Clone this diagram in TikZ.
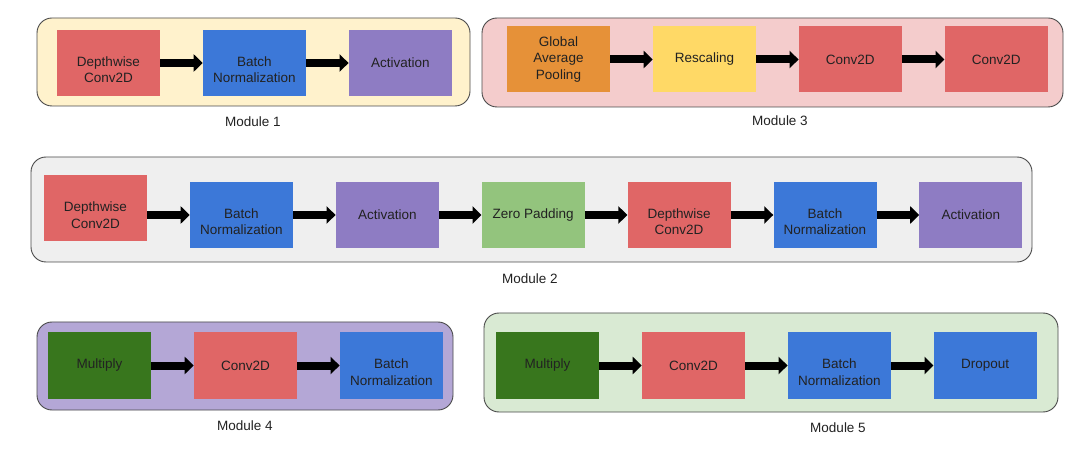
\documentclass[tikz,border=0pt]{standalone}
\usepackage{fontspec}
\setmainfont{Liberation Sans}
\usepackage{xcolor}
\usepackage{tikz}
\usetikzlibrary{arrows.meta,positioning}
\definecolor{ink}{HTML}{222222}
\definecolor{edge}{HTML}{4A4A4A}
\definecolor{conv}{HTML}{E06666}
\definecolor{norm}{HTML}{3C78D8}
\definecolor{act}{HTML}{8E7CC3}
\definecolor{pool}{HTML}{E69138}
\definecolor{rescale}{HTML}{FFD966}
\definecolor{zeropad}{HTML}{93C47D}
\definecolor{mult}{HTML}{38761D}
\definecolor{creampale}{HTML}{FFF2CC}
\definecolor{pinkpale}{HTML}{F4CCCC}
\definecolor{greypale}{HTML}{EFEFEF}
\definecolor{lilac}{HTML}{B4A7D6}
\definecolor{greenpale}{HTML}{D9EAD3}
\newcommand{\pair}[2]{\raisebox{-8.25pt}[\height][\depth]{\begin{tabular}{@{}c@{}}#1\\#2\end{tabular}}}

\begin{document}
\begin{tikzpicture}[x=1pt,y=-1pt,node distance=42.5pt,
 layer/.style={minimum width=103pt,minimum height=66pt,inner sep=0pt,align=center,text=ink,font=\fontsize{13.5}{16.5}\selectfont},
 module/.style={draw=edge,line width=0.9pt,rounded corners=15pt},
 caption/.style={text=ink,font=\fontsize{13.5}{16.5}\selectfont},
 flow/.style={line width=8pt,-{Triangle[width=17pt,length=9pt]}}]
 \useasboundingbox[fill=white] (0,0) rectangle (1080,449);
 \draw[module,fill=creampale] (37,18) rectangle (470,106);
 \draw[module,fill=pinkpale] (482,18) rectangle (1063,107);
 \draw[module,fill=greypale] (31,157) rectangle (1032,262);
 \draw[module,fill=lilac] (37,322) rectangle (453,410);
 \draw[module,fill=greenpale] (484,313) rectangle (1058,412);
 \node[layer,fill=conv] (m1a) at (108.5,63) {\pair{Depthwise}{Conv2D}};
 \node[layer,fill=norm,right=of m1a] (m1b) {\pair{Batch}{Normalization}};
 \node[layer,fill=act,right=of m1b] (m1c) {Activation};
 \node[caption] (lab1) at (253,122) {Module 1};
 \node[layer,fill=pool] (m3a) at (558.5,59.5) {Global\\Average\\Pooling};
 \node[layer,fill=rescale,right=of m3a] (m3b) {Rescaling};
 \node[layer,fill=conv,right=of m3b] (m3c) {Conv2D};
 \node[layer,fill=conv,right=of m3c] (m3d) {Conv2D};
 \node[caption] (lab3) at (780,121) {Module 3};
 \node[layer,fill=conv] (m2a) at (95.5,208.5) {\pair{Depthwise}{Conv2D}};
 \node[layer,fill=norm,right=of m2a,yshift=-6.5pt] (m2b) {\pair{Batch}{Normalization}};
 \node[layer,fill=act,right=of m2b] (m2c) {Activation};
 \node[layer,fill=zeropad,right=of m2c] (m2d) {Zero Padding};
 \node[layer,fill=conv,right=of m2d] (m2e) {\pair{Depthwise}{Conv2D}};
 \node[layer,fill=norm,right=of m2e] (m2f) {\pair{Batch}{Normalization}};
 \node[layer,fill=act,right=of m2f] (m2g) {Activation};
 \node[caption] (lab2) at (530,279) {Module 2};
 \node[layer,fill=mult] (m4a) at (99.5,365.5) {Multiply};
 \node[layer,fill=conv,right=of m4a] (m4b) {Conv2D};
 \node[layer,fill=norm,right=of m4b] (m4c) {\pair{Batch}{Normalization}};
 \node[caption] (lab4) at (245,426) {Module 4};
 \node[layer,fill=mult] (m5a) at (547.5,365.5) {Multiply};
 \node[layer,fill=conv,right=of m5a] (m5b) {Conv2D};
 \node[layer,fill=norm,right=of m5b] (m5c) {\pair{Batch}{Normalization}};
 \node[layer,fill=norm,right=of m5c] (m5d) {Dropout};
 \node[caption] (lab5) at (838,428) {Module 5};
 \draw[flow] (m2a.east |- m2b.west) -- (m2b.west);
 \foreach \a/\b in {m1a/m1b,m1b/m1c,m3a/m3b,m3b/m3c,m3c/m3d,m2b/m2c,m2c/m2d,m2d/m2e,m2e/m2f,m2f/m2g,m4a/m4b,m4b/m4c,m5a/m5b,m5b/m5c,m5c/m5d}
  \draw[flow] (\a.east) -- (\b.west);
\end{tikzpicture}
\end{document}
